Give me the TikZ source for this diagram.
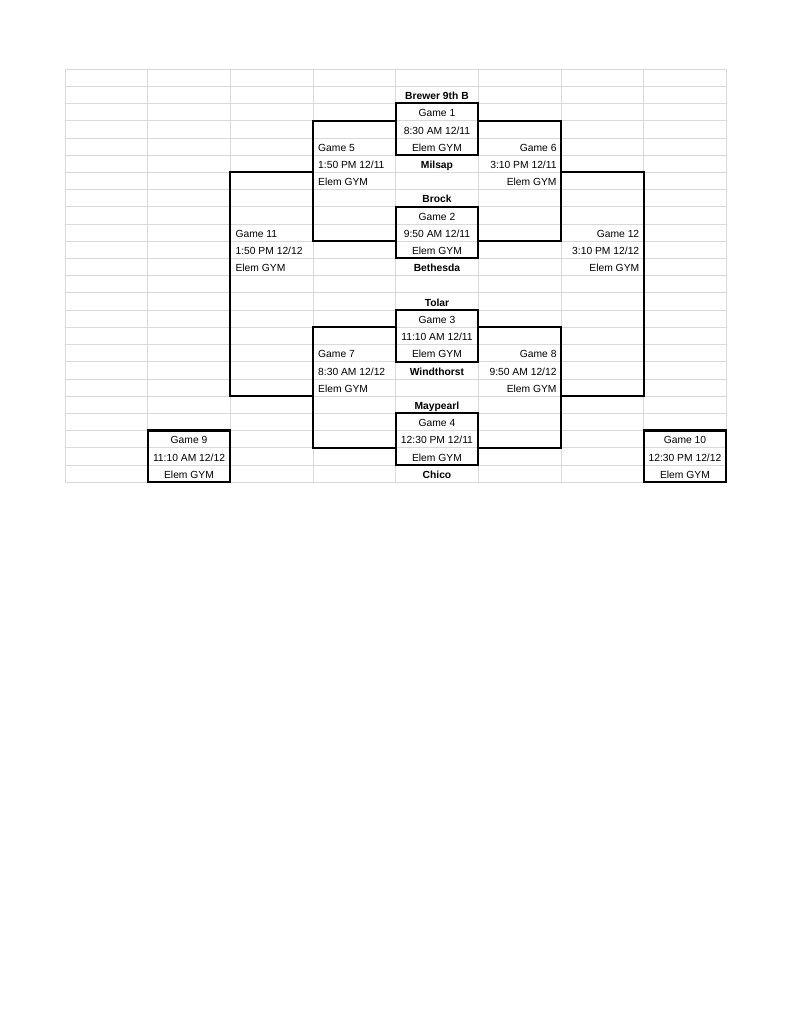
\documentclass[tikz,border=0pt]{standalone}
\usepackage{fontspec}
\setmainfont{Liberation Sans}
\definecolor{gridgray}{HTML}{D9D9D9}

\begin{document}
\begin{tikzpicture}[
  gridline/.style={gridgray, line width=0.5pt},
  bracket/.style={black, line width=1.6pt, line join=miter},
  cell/.style={font=\fontsize{8}{9.6}\selectfont, inner sep=0pt},
  team/.style={cell, font=\fontsize{8}{9.6}\selectfont\bfseries, anchor=base},
]
\useasboundingbox (0,0) rectangle (21.59,27.94);

\begin{scope}[shift={(1.774,26.057)}, x=2.2553cm, y=-0.4697cm]

% ===== Sheet grid: 8 columns, 24 rows =====
\foreach \c in {0,...,8}
  \draw[gridline] (\c,0) -- (\c,24);
\foreach \r in {0,...,24}
  \draw[gridline] (0,\r) -- (8,\r);

% ===== First round boxes =====
\draw[bracket] (4,2) rectangle (5,5);
\draw[bracket] (4,8) rectangle (5,11);
\draw[bracket] (4,14) rectangle (5,17);
\draw[bracket] (4,20) rectangle (5,23);

% ===== Consolation boxes =====
\draw[bracket] (1,21) rectangle (2,24);
\draw[bracket] (7,21) rectangle (8,24);

% ===== Second round brackets =====
\draw[bracket] (4,3) -- (3,3) -- (3,10) -- (4,10);
\draw[bracket] (5,3) -- (6,3) -- (6,10) -- (5,10);
\draw[bracket] (4,15) -- (3,15) -- (3,22) -- (4,22);
\draw[bracket] (5,15) -- (6,15) -- (6,22) -- (5,22);

% ===== Third round brackets =====
\draw[bracket] (3,6) -- (2,6) -- (2,19) -- (3,19);
\draw[bracket] (6,6) -- (7,6) -- (7,19) -- (6,19);

% ===== Teams =====
\foreach \name/\r/\txt in {brewer/1/Brewer 9th B, milsap/5/Milsap,
    brock/7/Brock, bethesda/11/Bethesda, tolar/13/Tolar,
    windthorst/17/Windthorst, maypearl/19/Maypearl, chico/23/Chico}
  \node[team] (\name) at (4.5,\r+0.78) {\txt};

% ===== Game info: number / x / first row / anchor / time =====
\foreach \g/\px/\r/\side/\when in {
    1/4.5/2/base/{8:30 AM 12/11},
    2/4.5/8/base/{9:50 AM 12/11},
    3/4.5/14/base/{11:10 AM 12/11},
    4/4.5/20/base/{12:30 PM 12/11},
    5/3.06/4/base west/{1:50 PM 12/11},
    6/5.95/4/base east/{3:10 PM 12/11},
    7/3.06/16/base west/{8:30 AM 12/12},
    8/5.95/16/base east/{9:50 AM 12/12},
    9/1.5/21/base/{11:10 AM 12/12},
    10/7.5/21/base/{12:30 PM 12/12},
    11/2.06/9/base west/{1:50 PM 12/12},
    12/6.95/9/base east/{3:10 PM 12/12}} {
  \node[cell, anchor=\side] (game\g) at (\px,\r+0.78) {Game \g};
  \node[cell, anchor=\side] (time\g) at (\px,\r+1.78) {\when};
  \node[cell, anchor=\side] (gym\g) at (\px,\r+2.78) {Elem GYM};
}

\end{scope}
\end{tikzpicture}
\end{document}
